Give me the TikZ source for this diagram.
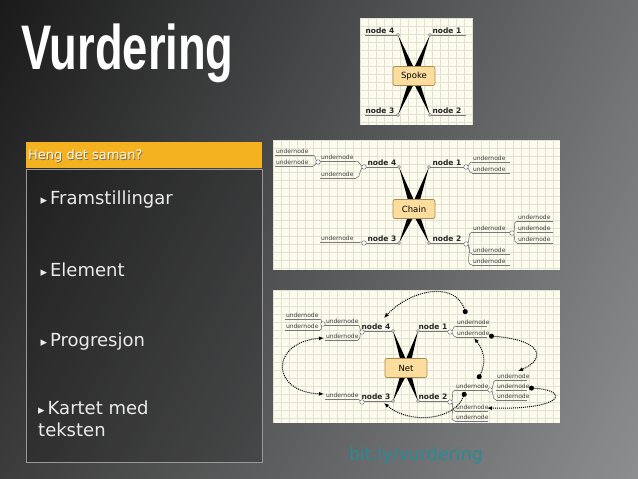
\documentclass[tikz,border=0pt]{standalone}
\usepackage{fontspec}
\setmainfont{DejaVu Sans}
\newfontfamily\titlefont{Liberation Sans}
\usetikzlibrary{calc,arrows.meta,shadings}
\definecolor{cream}{RGB}{252,251,238}
\definecolor{gridc}{RGB}{226,226,210}
\definecolor{boxf}{RGB}{251,222,158}
\definecolor{boxd}{RGB}{170,140,80}
\definecolor{orangebar}{RGB}{245,178,32}
\definecolor{teal}{RGB}{40,140,150}
\definecolor{ulc}{RGB}{120,120,120}
\definecolor{bgul}{RGB}{26,26,26}
\definecolor{bgur}{RGB}{110,112,114}
\definecolor{bgll}{RGB}{60,60,60}
\definecolor{bglr}{RGB}{140,142,144}
\definecolor{hengc}{RGB}{255,250,215}
\tikzset{
 untext/.style={font=\fontsize{6}{6}\selectfont, text=black!75, inner sep=0.8pt},
 ul/.style={draw=ulc, line width=0.6pt},
 nlab/.style={font=\bfseries\fontsize{7.5}{8}\selectfont, text=black!85, inner sep=1pt, anchor=south},
 knob/.style={circle, draw=ulc, fill=white, inner sep=0pt, minimum size=4.5pt, line width=0.5pt},
 cbox/.style={draw=boxd, fill=boxf, rounded corners=2pt, line width=0.7pt, minimum width=42pt, minimum height=19pt, font=\fontsize{8.5}{9}\selectfont},
 netar/.style={densely dotted, line width=1pt, {Circle[length=5pt]}-{Latex[length=5pt,width=4pt]}},
 bullet/.style={font=\fontsize{18}{22}\selectfont, text=black!8, anchor=west, align=left},
}
\newcommand\UN[4]{\node[untext, anchor=south west] (#1) at (#2,#3) {undernode}; \draw[ul] (#2,#3) -- ++(#4,0);}
\newcommand\Wdg[2]{\fill[black] (#1) -- ($(#2)!3.5pt!90:(#1)$) -- ($(#2)!3.5pt!-90:(#1)$) -- cycle;}
\newcommand\GRID[4]{\begin{scope}
\fill[cream] (#1,#2) rectangle (#3,#4);
\clip (#1,#2) rectangle (#3,#4);
\foreach \gx in {0,8,...,300} \draw[gridc, line width=0.4pt] (#1+\gx,#2) -- (#1+\gx,#4);
\foreach \gy in {0,8,...,140} \draw[gridc, line width=0.4pt] (#1,#2+\gy) -- (#3,#2+\gy);
\end{scope}}
\newcommand\BUL{{\fontsize{13}{13}\selectfont▸}\,}
\begin{document}
\begin{tikzpicture}[x=1pt,y=-1pt]
\useasboundingbox (0,0) rectangle (638,479);
\shade[upper left=bgul, upper right=bgur, lower left=bgll, lower right=bglr] (0,0) rectangle (638,479);
\node[anchor=west, text=white, font=\titlefont\bfseries\fontsize{63}{63}\selectfont, xscale=0.72, inner sep=0] (title) at (21,53) {Vurdering};
\fill[orangebar] (26,142) rectangle (262,168);
\fill[black, opacity=0.22] (26,169) rectangle (262,462);
\draw[white!60!black, line width=0.6pt] (26,169) rectangle (262,462);
\node[anchor=west, text=black!60, font=\fontsize{13}{13}\selectfont, inner sep=0pt] at (28.7,156.7) {Heng det saman?};
\node[anchor=west, text=hengc, font=\fontsize{13}{13}\selectfont, inner sep=0pt] (heng) at (28,156) {Heng det saman?};
\node[bullet] (b1) at (37,200) {\BUL Framstillingar};
\node[bullet] (b2) at (37,270) {\BUL Element};
\node[bullet] (b3) at (37,342) {\BUL Progresjon};
\node[bullet, anchor=north west, inner sep=0pt] (b4) at (38,401) {\BUL Kartet med\\teksten};
\node[text=teal, font=\fontsize{17.5}{18}\selectfont] (link) at (416,456) {bit.ly/vurdering};

% ===== Spoke =====
\GRID{360}{18}{473}{125}
\coordinate (sc) at (414,76);
\coordinate (s4) at (398,35); \coordinate (s1) at (430,35);
\coordinate (s3) at (398,115); \coordinate (s2) at (430,115);
\Wdg{s4}{sc}\Wdg{s1}{sc}\Wdg{s3}{sc}\Wdg{s2}{sc}
\draw[ul] (365,35)--(s4); \draw[ul] (s1)--(466,35);
\draw[ul] (365,115)--(s3); \draw[ul] (s2)--(466,115);
\node[nlab] at (380,35) {node 4}; \node[nlab] at (447,35) {node 1};
\node[nlab] at (380,115) {node 3}; \node[nlab] at (447,115) {node 2};
\foreach \p in {s4,s1,s3,s2} \node[knob, minimum size=3pt] at (\p) {};
\node[cbox] (spoke) at (sc) {Spoke};

% ===== Chain =====
\GRID{273}{140}{560}{270}
\coordinate (cc) at (414,209);
\coordinate (c4) at (399,167); \coordinate (c1) at (429,167);
\coordinate (c3) at (399,243); \coordinate (c2) at (429,243);
\Wdg{c4}{cc}\Wdg{c1}{cc}\Wdg{c3}{cc}\Wdg{c2}{cc}
\draw[ul] (364,167)--(c4); \draw[ul] (c1)--(466,167);
\draw[ul] (364,243)--(c3); \draw[ul] (c2)--(466,243);
\node[nlab] at (382,167) {node 4}; \node[nlab] at (447,167) {node 1};
\node[nlab] at (382,243) {node 3}; \node[nlab] at (447,243) {node 2};
\foreach \p in {c4,c1,c3,c2} \node[knob, minimum size=3pt] at (\p) {};
\UN{ca}{320}{161}{36} \UN{cb}{320}{178}{36}
\draw[ul] (364,167) to[out=180,in=0] (356,161); \draw[ul] (364,167) to[out=180,in=0] (356,178);
\node[knob] (k4) at (364,167) {};
\UN{cc1}{275}{155}{38} \UN{cc2}{275}{166}{38}
\draw[ul] (318,162) to[out=180,in=0] (313,155); \draw[ul] (318,162) to[out=180,in=0] (313,166);
\draw[ul] (318,162) to[out=0,in=180] (320,161);
\node[knob] (k4b) at (318,162) {};
\UN{cd}{472}{162}{38} \UN{ce}{472}{173}{38}
\draw[ul] (466,167) to[out=0,in=180] (472,162); \draw[ul] (466,167) to[out=0,in=180] (472,173);
\node[knob] (k1) at (466,167) {};
\UN{cf}{320}{242}{40}
\draw[ul] (360,242)--(364,243);
\node[knob] (k3) at (364,243) {};
\UN{cg}{472}{232}{38} \UN{ch}{472}{254}{38} \UN{ci}{472}{265}{38}
\draw[ul] (466,244) to[out=0,in=180] (472,232); \draw[ul] (466,244) to[out=0,in=180] (472,254);\draw[ul] (466,244) to[out=0,in=180] (472,265);
\node[knob] (k2) at (466,244) {};
\UN{cj}{517}{221}{36} \UN{ck}{517}{232}{36} \UN{cl}{517}{243}{36}
\draw[ul] (512,233) to[out=0,in=180] (517,221); \draw[ul] (512,233) to[out=0,in=180] (517,243);
\node[knob] (k2b) at (512,233) {};
\node[cbox] (chain) at (cc) {Chain};

% ===== Net =====
\GRID{273}{290}{560}{423}
\coordinate (nc) at (406,368);
\coordinate (n4) at (393,331); \coordinate (n1) at (418,331);
\coordinate (n3) at (393,401); \coordinate (n2) at (418,401);
\Wdg{n4}{nc}\Wdg{n1}{nc}\Wdg{n3}{nc}\Wdg{n2}{nc}
\draw[ul] (362,331)--(n4); \draw[ul] (n1)--(450,331);
\draw[ul] (362,401)--(n3); \draw[ul] (n2)--(450,401);
\node[nlab] at (376,331) {node 4}; \node[nlab] at (433,331) {node 1};
\node[nlab] at (376,401) {node 3}; \node[nlab] at (433,401) {node 2};
\foreach \p in {n4,n1,n3,n2} \node[knob, minimum size=3pt] at (\p) {};
\UN{na}{325}{325}{33} \UN{nb}{325}{340}{33}
\draw[ul] (362,332) to[out=180,in=0] (358,325); \draw[ul] (362,332) to[out=180,in=0] (358,340);
\node[knob] at (362,332) {};
\UN{nc1}{285}{319}{35} \UN{nc2}{285}{330}{35}
\draw[ul] (323,324) to[out=180,in=0] (320,319); \draw[ul] (323,324) to[out=180,in=0] (320,330);
\draw[ul] (323,324) -- (325,325);
\node[knob] at (323,324) {};
\UN{nd}{456}{326}{31} \UN{ne}{456}{337}{31}
\draw[ul] (450,332) to[out=0,in=180] (456,326); \draw[ul] (450,332) to[out=0,in=180] (456,337);
\node[knob] at (450,332) {};
\UN{nf}{325}{399}{33}
\draw[ul] (358,399)--(362,402);
\node[knob] at (362,402) {};
\UN{ng}{455}{390}{33} \UN{nh}{455}{411}{33} \UN{ni}{455}{421}{33}
\draw[ul] (450,402) to[out=0,in=180] (455,390); \draw[ul] (450,402) to[out=0,in=180] (455,411); \draw[ul] (450,402) to[out=0,in=180] (455,421);
\node[knob] at (450,402) {};
\UN{nj}{496}{380}{31} \UN{nk}{496}{390}{31} \UN{nl}{496}{400}{31}
\draw[ul] (490,390) to[out=0,in=180] (496,380); \draw[ul] (490,390) to[out=0,in=180] (496,400);
\node[knob] at (490,390) {};
\node[cbox] (net) at (nc) {Net};
\coordinate (d1a) at (466,314); \coordinate (d1b) at (384,318);
\draw[netar] (d1a) .. controls (455,280) and (410,290) .. (d1b);
\coordinate (d2a) at (489,336); \coordinate (d2b) at (518,371);
\draw[netar] (d2a) .. controls (545,340) and (545,360) .. (d2b);
\coordinate (d3a) at (478,379); \coordinate (d3b) at (474,338);
\draw[netar] (d3a) .. controls (488,360) and (482,348) .. (d3b);
\coordinate (d4a) at (465,392); \coordinate (d4b) at (384,403);
\draw[netar] (d4a) .. controls (455,420) and (410,425) .. (d4b);
\coordinate (d5a) at (529,388); \coordinate (d5b) at (487,408);
\draw[netar] (d5a) .. controls (570,390) and (565,410) .. (d5b);
\coordinate (d6a) at (324,338); \coordinate (d6b) at (324,394);
\draw[densely dotted, line width=1pt, {Latex[length=5pt,width=4pt]}-{Latex[length=5pt,width=4pt]}] (d6a) .. controls (270,342) and (270,392) .. (d6b);
\end{tikzpicture}
\end{document}
